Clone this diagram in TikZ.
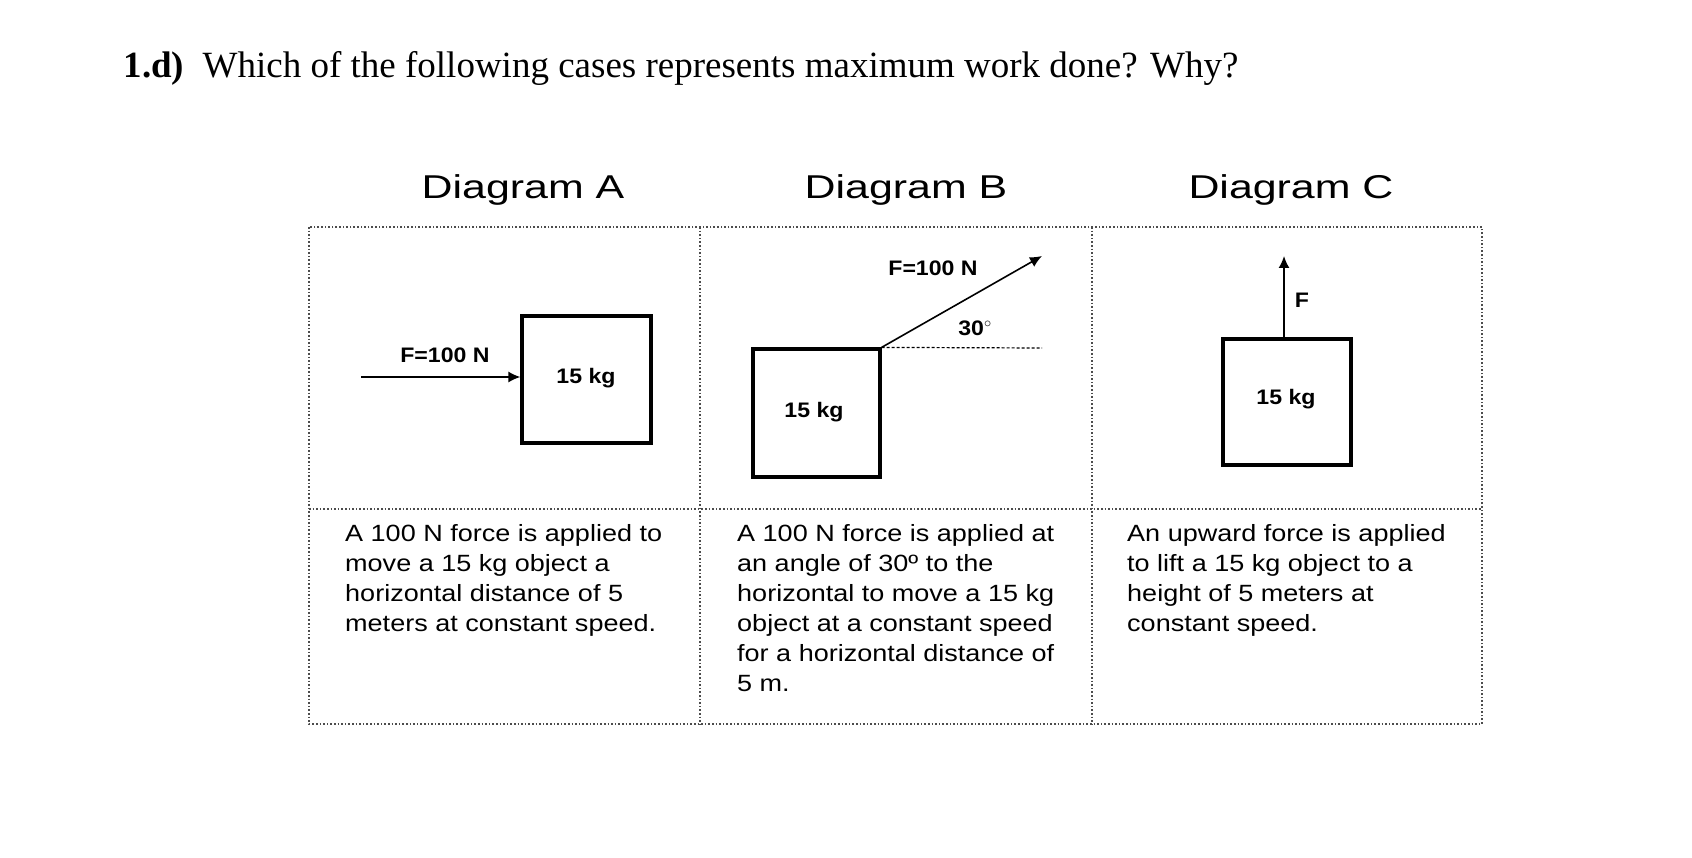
\documentclass[tikz,border=0pt]{standalone}
\usepackage{fontspec}
\usetikzlibrary{arrows.meta}
\setmainfont{Liberation Serif}
\newfontfamily\descf[FakeStretch=1.15]{Liberation Sans}
\newfontfamily\hdrf[FakeStretch=1.3]{Liberation Sans}
\newfontfamily\lblf[FakeStretch=1.1]{Liberation Sans}
\begin{document}
\begin{tikzpicture}[x=1pt,y=-1pt,
  grid/.style={dotted,line width=1.6pt,black!70},
  mass/.style={draw,line width=3.2pt,inner sep=0pt},
  lbl/.style={font=\lblf\bfseries\fontsize{21}{24}\selectfont},
  hdr/.style={font=\hdrf\fontsize{33}{36}\selectfont},
  desc/.style={font=\descf\fontsize{23.5}{30}\selectfont,align=left,anchor=north west,inner sep=0pt},
  force/.style={line width=1.6pt,-{Latex[length=12pt,width=11pt]}}]
\useasboundingbox (0,0) rectangle (1692,858);
\node[anchor=base west,font=\fontsize{37}{42}\selectfont] (title) at (120,78) {\textbf{1.d)}\ \ Which of the following cases represents maximum work done? Why?};
\node[hdr] (ha) at (523,190) {Diagram A};
\node[hdr] (hb) at (906,190) {Diagram B};
\node[hdr] (hc) at (1291,190) {Diagram C};
% table
\draw[grid] (309,227) rectangle (1482,724);
\draw[grid] (309,509) -- (1482,509);
\draw[grid] (700,227) -- (700,724);
\draw[grid] (1092,227) -- (1092,724);
% A
\node[mass,minimum width=129pt,minimum height=127pt] (boxa) at (586.5,379.5) {};
\node[lbl] (ma) at (586,378) {15 kg};
\coordinate (fa) at (361,377);
\draw[force] (fa) -- (boxa.west|-fa);
\node[lbl] (la) at (445,355) {F=100 N};
% B
\node[mass,minimum width=127pt,minimum height=128pt] (boxb) at (816.5,413) {};
\node[lbl] (mb) at (814,412) {15 kg};
\coordinate (tb) at (1042,256);
\coordinate (hbx) at (1042,348);
\draw[force] (boxb.north east) -- (tb);
\draw[line width=1.2pt,dash pattern=on 3pt off 2pt] (boxb.north east) -- (hbx);
\node[lbl] (lb) at (933,268) {F=100 N};
\node[lbl] (ab) at (975,328) {30$^{\circ}$};
% C
\node[mass,minimum width=128pt,minimum height=126pt] (boxc) at (1287,402) {};
\node[lbl] (mc) at (1286,399) {15 kg};
\coordinate (tc) at (1284,256);
\draw[force] (boxc.north-|tc) -- (tc);
\node[lbl] (lc) at (1302,300) {F};
% descriptions
\node[desc] (da) at (345,524) {A 100 N force is applied to\\move a 15 kg object a\\horizontal distance of 5\\meters at constant speed.};
\node[desc] (db) at (737,524) {A 100 N force is applied at\\an angle of 30º to the\\horizontal to move a 15 kg\\object at a constant speed\\for a horizontal distance of\\5 m.};
\node[desc] (dc) at (1127,524) {An upward force is applied\\to lift a 15 kg object to a\\height of 5 meters at\\constant speed.};
\end{tikzpicture}
\end{document}
